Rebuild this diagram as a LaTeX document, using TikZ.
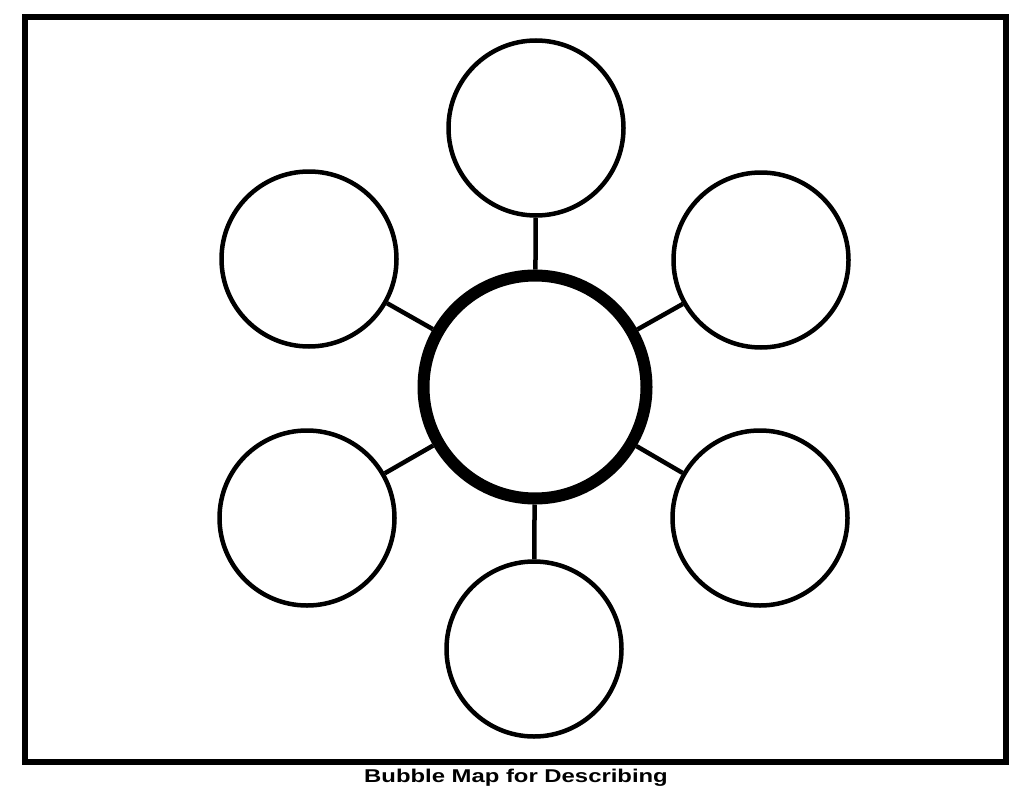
\documentclass[tikz,border=0pt]{standalone}
\usepackage{graphicx}
\usepackage{fontspec}
\setmainfont{Liberation Sans}
\begin{document}
\begin{tikzpicture}[x=1pt,y=-1pt,
  bubble/.style={circle,draw,line width=4.5pt,minimum size=175pt,inner sep=0pt},
  hub/.style={circle,draw,line width=12pt,minimum size=223pt,inner sep=0pt},
  spoke/.style={line width=4.5pt}]
\useasboundingbox (0,0) rectangle (1024,800);
\draw[line width=6pt] (25,17) rectangle (1006,761.5);
\node[hub] (c) at (535,387) {};
\node[bubble] (t) at (536,128) {};
\node[bubble] (ul) at (309,259) {};
\node[bubble] (ur) at (761,260) {};
\node[bubble] (ll) at (307,518) {};
\node[bubble] (lr) at (760,518) {};
\node[bubble] (b) at (534,649) {};
\foreach \n in {t,ul,ur,ll,lr,b} \draw[spoke] (c) -- (\n);
\node[font=\bfseries,inner sep=0pt,anchor=base] (title) at (516,782) {\scalebox{1.29}[1]{\fontsize{18.5pt}{20pt}\selectfont Bubble Map for Describing}};
\end{tikzpicture}
\end{document}
